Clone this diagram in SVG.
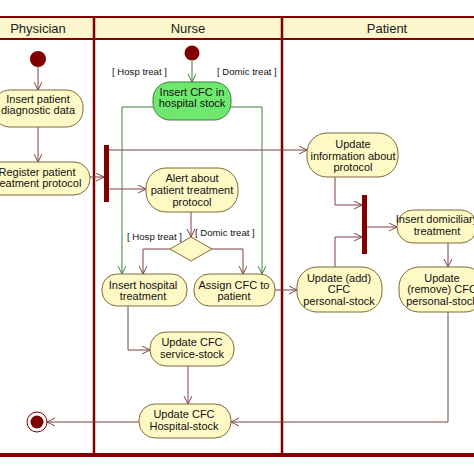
<svg xmlns="http://www.w3.org/2000/svg" width="474" height="474" viewBox="0 0 474 474">
<defs>
<style>
.frame{stroke:#800000;fill:none}
.hdr{font-family:"Liberation Sans",Arial,sans-serif;font-size:13px;fill:#222;text-anchor:middle}
.node rect{fill:#fff9c6;stroke:#7f6a3a;stroke-width:1}
.node.green rect{fill:#6fe86f;stroke:#3f7f3f}
.node text,.lbl{font-family:"Liberation Sans",Arial,sans-serif;font-size:11px;fill:#111;text-anchor:middle}
.guard{font-family:"Liberation Sans",Arial,sans-serif;font-size:9.6px;fill:#111}
.c{fill:none;stroke:#7f4040;stroke-width:1;marker-end:url(#arr)}
.g{fill:none;stroke:#3f7f3f;stroke-width:1;marker-end:url(#arrg)}
.bar{fill:#800000}
</style>
<marker id="arr" markerUnits="userSpaceOnUse" markerWidth="10" markerHeight="10" refX="8" refY="4" orient="auto">
<path d="M0,0 L8,4 L0,8" fill="none" stroke="#7f4040" stroke-width="1"/>
</marker>
<marker id="arrg" markerUnits="userSpaceOnUse" markerWidth="10" markerHeight="10" refX="8" refY="4" orient="auto">
<path d="M0,0 L8,4 L0,8" fill="none" stroke="#3f7f3f" stroke-width="1"/>
</marker>
</defs>
<rect width="474" height="474" fill="#fff"/>
<g id="swimlanes">
<rect x="-5" y="17" width="490" height="22" fill="#fbf6cc"/>
<line class="frame" x1="-5" y1="17" x2="480" y2="17" stroke-width="2"/>
<line class="frame" x1="-5" y1="39" x2="480" y2="39" stroke-width="2"/>
<line class="frame" x1="94" y1="17" x2="94" y2="455" stroke-width="2.5"/>
<line class="frame" x1="282" y1="17" x2="282" y2="455" stroke-width="2.5"/>
<line class="frame" x1="-5" y1="455" x2="480" y2="455" stroke-width="4"/>
<text class="hdr" x="38" y="33">Physician</text>
<text class="hdr" x="188" y="33">Nurse</text>
<text class="hdr" x="387" y="33">Patient</text>
</g>
<g id="connectors">
<line class="c" x1="38" y1="67" x2="38" y2="90"/>
<line class="c" x1="38" y1="127" x2="38" y2="162"/>
<line class="c" x1="90" y1="177" x2="104" y2="177"/>
<line class="c" x1="109" y1="150" x2="307" y2="150"/>
<line class="c" x1="109" y1="189" x2="146" y2="189"/>
<line class="g" x1="192" y1="61" x2="192" y2="82"/>
<path class="g" d="M153,107 H122 V274"/>
<path class="g" d="M231,107 H262 V274"/>
<line class="c" x1="191" y1="212" x2="191" y2="237"/>
<path class="c" d="M170,249 H143 V274"/>
<path class="c" d="M212,249 H243 V274"/>
<line class="c" x1="275" y1="290" x2="297" y2="290"/>
<path class="c" d="M128,306 V350 H150"/>
<line class="c" x1="188" y1="366" x2="188" y2="404"/>
<line class="c" x1="139" y1="422" x2="47" y2="422"/>
<path class="c" d="M335,177 V205 H362"/>
<path class="c" d="M335,267 V237 H362"/>
<line class="c" x1="367" y1="227" x2="397" y2="227"/>
<line class="c" x1="448" y1="243" x2="448" y2="267"/>
<path class="c" d="M448,312 V422 H231"/>
</g>
<g id="start-physician"><circle cx="38" cy="59" r="8" fill="#800000"/></g>
<g id="start-nurse"><circle cx="192" cy="53" r="7.5" fill="#800000"/></g>
<g id="end"><circle cx="37" cy="422" r="10" fill="#fff" stroke="#800000" stroke-width="1"/><circle cx="37" cy="422" r="6.5" fill="#800000"/></g>
<g id="fork1"><rect class="bar" x="104" y="145" width="5" height="57"/></g>
<g id="join1"><rect class="bar" x="362" y="195" width="5" height="59"/></g>
<g id="decision"><polygon points="191,237 212,249 191,261 170,249" fill="#fff9c6" stroke="#7f6a3a"/></g>
<g id="guards">
<text class="guard" x="112" y="75">[ Hosp treat ]</text>
<text class="guard" x="217" y="75">[ Domic treat ]</text>
<text class="guard" x="127" y="240">[ Hosp treat ]</text>
<text class="guard" x="195" y="236">[ Domic treat ]</text>
</g>
<g id="n1" class="node"><rect x="-7" y="90" width="90" height="37" rx="17"/><text x="38" y="103">Insert patient</text><text x="38" y="114">diagnostic data</text></g>
<g id="n2" class="node"><rect x="-16" y="162" width="106" height="33" rx="16"/><text x="37" y="176">Register patient</text><text x="37" y="187">treatment protocol</text></g>
<g id="n3" class="node green"><rect x="153" y="82" width="78" height="38" rx="17"/><text x="192" y="96">Insert CFC in</text><text x="192" y="107">hospital stock</text></g>
<g id="n4" class="node"><rect x="146" y="168" width="92" height="44" rx="20"/><text x="192" y="182">Alert about</text><text x="192" y="194">patient treatment</text><text x="192" y="206">protocol</text></g>
<g id="n5" class="node"><rect x="102" y="274" width="85" height="32" rx="15"/><text x="143" y="289">Insert hospital</text><text x="143" y="300">treatment</text></g>
<g id="n6" class="node"><rect x="194" y="274" width="81" height="32" rx="15"/><text x="234" y="289">Assign CFC to</text><text x="234" y="300">patient</text></g>
<g id="n7" class="node"><rect x="150" y="332" width="84" height="34" rx="16"/><text x="192" y="346">Update CFC</text><text x="192" y="358">service-stock</text></g>
<g id="n8" class="node"><rect x="139" y="404" width="92" height="34" rx="16"/><text x="184" y="418">Update CFC</text><text x="184" y="430">Hospital-stock</text></g>
<g id="n9" class="node"><rect x="307" y="133" width="91" height="44" rx="20"/><text x="353" y="148">Update</text><text x="353" y="160">information about</text><text x="353" y="171">protocol</text></g>
<g id="n10" class="node"><rect x="297" y="267" width="85" height="45" rx="20"/><text x="339" y="282">Update (add)</text><text x="339" y="293">CFC</text><text x="339" y="305">personal-stock</text></g>
<g id="n11" class="node"><rect x="397" y="210" width="80" height="33" rx="16"/><text x="437" y="223">Insert domiciliary</text><text x="437" y="235">treatment</text></g>
<g id="n12" class="node"><rect x="399" y="267" width="86" height="45" rx="20"/><text x="442" y="282">Update</text><text x="442" y="293">(remove) CFC</text><text x="442" y="305">personal-stock</text></g>
</svg>
